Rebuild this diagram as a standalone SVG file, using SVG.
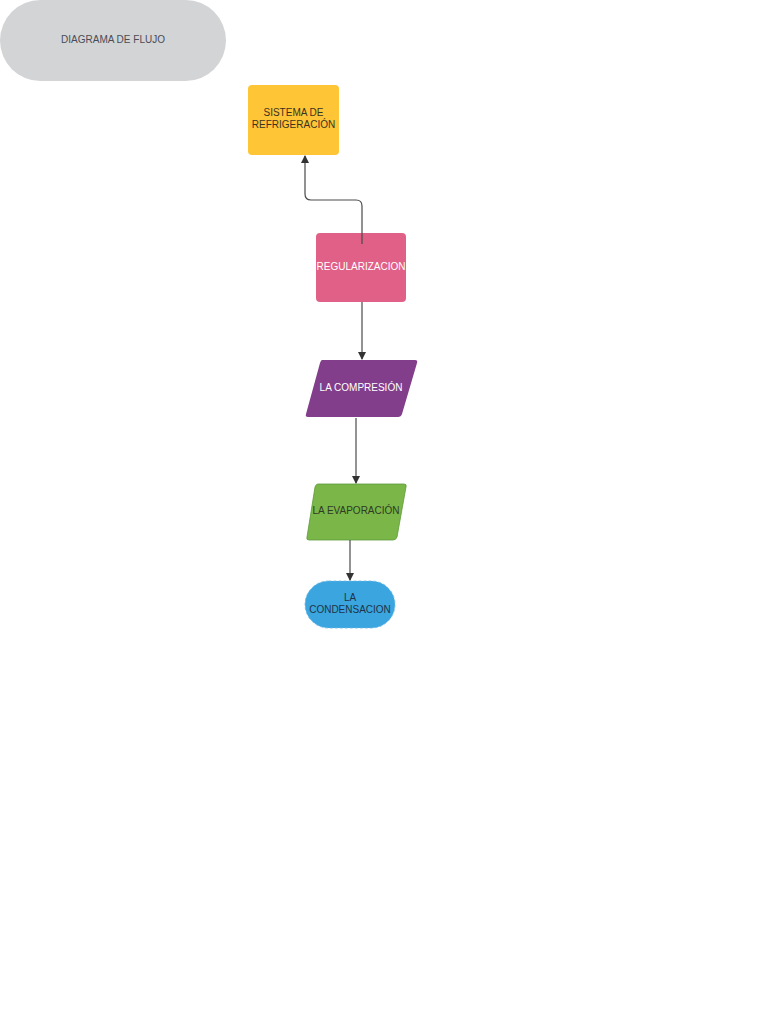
<svg xmlns="http://www.w3.org/2000/svg" width="768" height="1024" viewBox="0 0 768 1024">
<style>
.t{font-family:"Liberation Sans",Arial,sans-serif;font-size:10px;text-anchor:middle}
.c{fill:none;stroke:#4a4a4a;stroke-width:1.2}
</style>
<defs>
<marker id="a" markerWidth="8" markerHeight="8" refX="7" refY="4" orient="auto" markerUnits="userSpaceOnUse">
<path d="M0,0 L8,4 L0,8 Z" fill="#333"/>
</marker>
</defs>
<rect width="768" height="1024" fill="#fff"/>
<g id="title">
<rect x="0" y="0" width="226" height="81" rx="40.5" fill="#d3d4d6"/>
<text class="t" x="113" y="43" fill="#4a4c55">DIAGRAMA DE FLUJO</text>
</g>
<g id="sistema">
<rect x="248" y="85" width="91" height="70" rx="4" fill="#fec537"/>
<text class="t" x="293.5" y="116" fill="#3a3320">SISTEMA DE</text>
<text class="t" x="293.5" y="128" fill="#3a3320">REFRIGERACIÓN</text>
</g>
<g id="regularizacion">
<rect x="316" y="233" width="90" height="69" rx="4" fill="#e06087"/>
<text class="t" x="361" y="270" fill="#fff">REGULARIZACION</text>
</g>
<g id="compresion">
<path d="M322,360 H415 Q418,360 417,363 L402,414 Q401,417 398,417 H308 Q305,417 306,414 L320,363 Q321,360 322,360 Z" fill="#823e8a"/>
<text class="t" x="361" y="391" fill="#fff">LA COMPRESIÓN</text>
</g>
<g id="evaporacion">
<path d="M318,484 H404 Q407,484 406,487 L397,537 Q396,540 393,540 H309 Q306,540 307,537 L315,487 Q316,484 318,484 Z" fill="#7ab648" stroke="#5e9a3a" stroke-width="0.8"/>
<text class="t" x="356" y="514" fill="#2d3a25">LA EVAPORACIÓN</text>
</g>
<g id="condensacion">
<rect x="305" y="581" width="90" height="47" rx="23.5" fill="#3aa5de" stroke="#6cb8e6" stroke-width="0.8" stroke-dasharray="3,2"/>
<text class="t" x="350" y="601" fill="#1f3448">LA</text>
<text class="t" x="350" y="613" fill="#1f3448">CONDENSACION</text>
</g>
<g id="connectors">
<path class="c" d="M362,244 V206 Q362,200 356,200 H311 Q305,200 305,194 V156" marker-end="url(#a)"/>
<path class="c" d="M362,302 V359" marker-end="url(#a)"/>
<path class="c" d="M356,418 V483" marker-end="url(#a)"/>
<path class="c" d="M350,540 V580" marker-end="url(#a)"/>
</g>
</svg>
